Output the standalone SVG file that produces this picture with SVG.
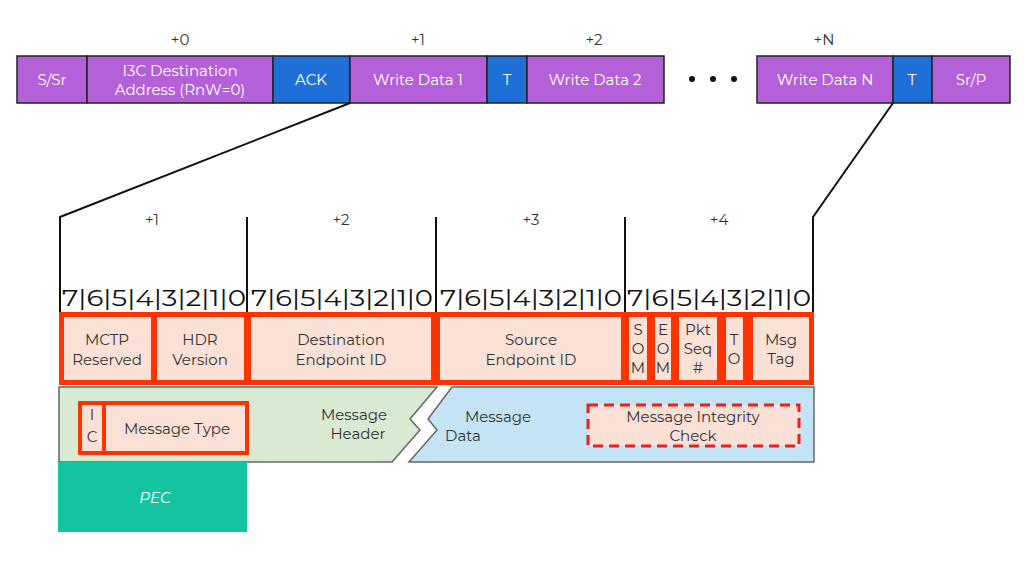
<svg xmlns="http://www.w3.org/2000/svg" width="1024" height="561" viewBox="0 0 1024 561">
<style>
text{font-family:Montserrat,"Open Sans","Liberation Sans",sans-serif;fill:#333;font-size:15px;text-anchor:middle}
.p{fill:#b460d8;stroke:#222;stroke-width:1.5}
.b{fill:#1f6fd8;stroke:#222;stroke-width:1.5}
.w{fill:#fff}
.r{fill:#fbe1d5;stroke:#ff3300;stroke-width:4}
.ln{stroke:#111;stroke-width:2;fill:none}
.bits{font-size:22px;fill:#111}
</style>
<rect width="1024" height="561" fill="#fff"/>
<g id="top">
<text x="180" y="45">+0</text><text x="418" y="45">+1</text><text x="594" y="45">+2</text><text x="824" y="45">+N</text>
<rect class="p" x="17" y="56" width="70" height="47"/><text class="w" x="52" y="85">S/Sr</text>
<rect class="p" x="87" y="56" width="186" height="47"/><text class="w" x="180" y="76">I3C Destination</text><text class="w" x="180" y="95">Address (RnW=0)</text>
<rect class="b" x="273" y="56" width="77" height="47"/><text class="w" x="311" y="85">ACK</text>
<rect class="p" x="350" y="56" width="137" height="47"/><text class="w" x="418" y="85">Write Data 1</text>
<rect class="b" x="487" y="56" width="40" height="47"/><text class="w" x="507" y="85">T</text>
<rect class="p" x="527" y="56" width="137" height="47"/><text class="w" x="595" y="85">Write Data 2</text>
<circle cx="692" cy="79" r="3" fill="#111"/><circle cx="713" cy="79" r="3" fill="#111"/><circle cx="734" cy="79" r="3" fill="#111"/>
<rect class="p" x="757" y="56" width="136" height="47"/><text class="w" x="825" y="85">Write Data N</text>
<rect class="b" x="893" y="56" width="39" height="47"/><text class="w" x="912" y="85">T</text>
<rect class="p" x="932" y="56" width="78" height="47"/><text class="w" x="971" y="85">Sr/P</text>
</g>
<g id="connectors">
<polyline class="ln" points="350,103 60,217 60,312"/>
<polyline class="ln" points="893,103 813,217 813,312"/>
<line class="ln" x1="247" y1="217" x2="247" y2="312"/>
<line class="ln" x1="436" y1="217" x2="436" y2="312"/>
<line class="ln" x1="625" y1="217" x2="625" y2="312"/>
</g>
<g id="bytes">
<text x="152" y="225">+1</text><text x="341" y="225">+2</text><text x="531" y="225">+3</text><text x="719" y="225">+4</text>
<text class="bits" x="154" y="306" textLength="184" lengthAdjust="spacingAndGlyphs">7|6|5|4|3|2|1|0</text>
<text class="bits" x="342" y="306" textLength="182" lengthAdjust="spacingAndGlyphs">7|6|5|4|3|2|1|0</text>
<text class="bits" x="531" y="306" textLength="182" lengthAdjust="spacingAndGlyphs">7|6|5|4|3|2|1|0</text>
<text class="bits" x="719" y="306" textLength="184" lengthAdjust="spacingAndGlyphs">7|6|5|4|3|2|1|0</text>
</g>
<g id="header">
<rect x="59" y="312" width="755" height="73" fill="#ff3300"/>
<rect class="r" x="62" y="315" width="91" height="67" stroke-width="3"/><text x="107" y="345">MCTP</text><text x="107" y="365">Reserved</text>
<rect class="r" x="155" y="315" width="91" height="67" stroke-width="3"/><text x="200" y="345">HDR</text><text x="200" y="365">Version</text>
<rect class="r" x="249" y="315" width="184" height="67" stroke-width="3"/><text x="341" y="345">Destination</text><text x="341" y="365">Endpoint ID</text>
<rect class="r" x="438" y="315" width="185" height="67" stroke-width="3"/><text x="531" y="345">Source</text><text x="531" y="365">Endpoint ID</text>
<rect class="r" x="627" y="315" width="22" height="67" stroke-width="3"/><text x="638" y="335">S</text><text x="638" y="354">O</text><text x="638" y="373">M</text>
<rect class="r" x="653" y="315" width="20" height="67" stroke-width="3"/><text x="663" y="335">E</text><text x="663" y="354">O</text><text x="663" y="373">M</text>
<rect class="r" x="677" y="315" width="42" height="67" stroke-width="3"/><text x="698" y="335">Pkt</text><text x="698" y="354">Seq</text><text x="698" y="373">#</text>
<rect class="r" x="724" y="315" width="21" height="67" stroke-width="3"/><text x="734" y="345">T</text><text x="734" y="364">O</text>
<rect class="r" x="751" y="315" width="60" height="67" stroke-width="3"/><text x="781" y="345">Msg</text><text x="781" y="364">Tag</text>
</g>
<g id="message">
<polygon points="59,387 437,387 410,419 420,430 392,462 59,462" fill="#d9ead3" stroke="#666" stroke-width="1.5"/>
<polygon points="452,387 814,387 814,462 409,462 437,430 428,419" fill="#c4e4f6" stroke="#666" stroke-width="1.5"/>
<rect class="r" x="80" y="403" width="24" height="50" stroke-width="3"/><text x="92" y="420">I</text><text x="92" y="442">C</text>
<rect class="r" x="104" y="403" width="143" height="50" stroke-width="3"/><text x="177" y="434">Message Type</text>
<text x="354" y="420">Message</text><text x="358" y="439">Header</text>
<text x="498" y="422">Message</text><text x="482" y="441" text-anchor="start" dx="-19">Data</text>
<rect x="588" y="405" width="211" height="41" fill="#fbe1d5" stroke="#ee1c1c" stroke-width="3" stroke-dasharray="10,6"/>
<text x="693" y="422">Message Integrity</text><text x="693" y="441">Check</text>
</g>
<g id="pec">
<rect x="58" y="462" width="189" height="70" fill="#14c3a0"/>
<text x="155" y="503" fill="#fff" style="fill:#fff;font-style:italic">PEC</text>
</g>
</svg>
